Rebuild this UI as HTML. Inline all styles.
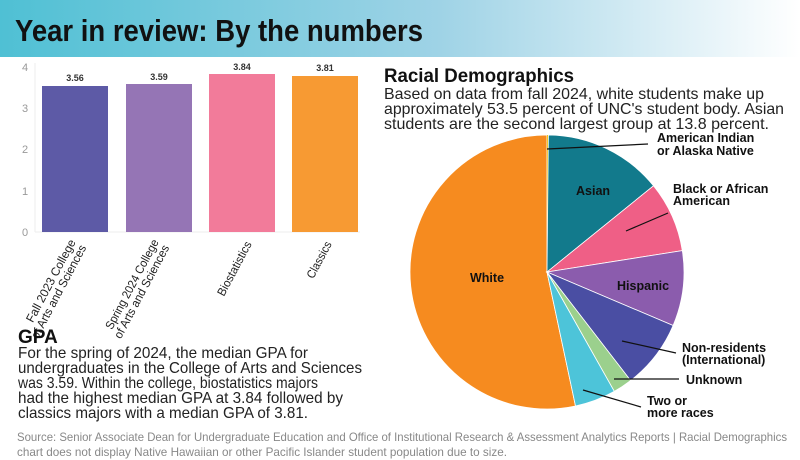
<!DOCTYPE html>
<html><head><meta charset="utf-8"><style>
html,body{margin:0;padding:0;background:#fff}
svg{display:block}
</style></head><body>
<svg width="800" height="460" viewBox="0 0 800 460" xmlns="http://www.w3.org/2000/svg" font-family="'Liberation Sans Narrow','Liberation Sans',sans-serif">
<defs><linearGradient id="hg" x1="0" x2="1" y1="0" y2="0">
<stop offset="0" stop-color="#4fc0d4"/><stop offset="0.55" stop-color="#9fd3e6"/><stop offset="1" stop-color="#ffffff"/></linearGradient></defs>
<rect x="0" y="0" width="800" height="57" fill="url(#hg)"/>
<text x="15" y="41" font-size="31" font-weight="bold" fill="#111" textLength="408" lengthAdjust="spacingAndGlyphs">Year in review: By the numbers</text>

<!-- bar chart -->
<line x1="35" y1="63" x2="35" y2="232" stroke="#eee"/>
<line x1="35" y1="232" x2="360" y2="232" stroke="#eee"/>
<g font-size="11" fill="#999" text-anchor="middle">
<text x="25" y="71">4</text><text x="25" y="112">3</text><text x="25" y="153">2</text><text x="25" y="195">1</text><text x="25" y="236">0</text>
</g>
<rect x="42" y="86" width="66" height="146" fill="#5d5aa6"/>
<rect x="126" y="84" width="66" height="148" fill="#9575b5"/>
<rect x="209" y="74" width="66" height="158" fill="#f27b9a"/>
<rect x="292" y="76" width="66" height="156" fill="#f79a33"/>
<g font-size="9" fill="#333" text-anchor="middle" font-weight="bold">
<text x="75" y="81">3.56</text><text x="159" y="80">3.59</text><text x="242" y="70">3.84</text><text x="325" y="71">3.81</text>
</g>
<g font-size="12" fill="#222" text-anchor="end">
<g transform="translate(76,242) rotate(-62)"><text x="0" y="0" textLength="92" lengthAdjust="spacingAndGlyphs">Fall 2023 College</text><text x="0" y="12" textLength="104" lengthAdjust="spacingAndGlyphs">of Arts and Sciences</text></g>
<g transform="translate(159,242) rotate(-62)"><text x="0" y="0" textLength="100" lengthAdjust="spacingAndGlyphs">Spring 2024 College</text><text x="0" y="12" textLength="104" lengthAdjust="spacingAndGlyphs">of Arts and Sciences</text></g>
<g transform="translate(252,244) rotate(-62)"><text x="0" y="0" textLength="60" lengthAdjust="spacingAndGlyphs">Biostatistics</text></g>
<g transform="translate(332,244) rotate(-62)"><text x="0" y="0" textLength="40" lengthAdjust="spacingAndGlyphs">Classics</text></g>
</g>

<!-- GPA text -->
<text x="18" y="343" font-size="19" font-weight="bold" fill="#111">GPA</text>
<g font-size="16" fill="#222">
<text x="18" y="358" textLength="290" lengthAdjust="spacingAndGlyphs">For the spring of 2024, the median GPA for</text>
<text x="18" y="373" textLength="344" lengthAdjust="spacingAndGlyphs">undergraduates in the College of Arts and Sciences</text>
<text x="18" y="388" textLength="300" lengthAdjust="spacingAndGlyphs">was 3.59. Within the college, biostatistics majors</text>
<text x="18" y="403" textLength="325" lengthAdjust="spacingAndGlyphs">had the highest median GPA at 3.84 followed by</text>
<text x="18" y="418" textLength="290" lengthAdjust="spacingAndGlyphs">classics majors with a median GPA of 3.81.</text>
</g>

<!-- Racial demographics text -->
<text x="384" y="82" font-size="19" font-weight="bold" fill="#111" textLength="190" lengthAdjust="spacingAndGlyphs">Racial Demographics</text>
<g font-size="16" fill="#222">
<text x="384" y="99" textLength="380" lengthAdjust="spacingAndGlyphs">Based on data from fall 2024, white students make up</text>
<text x="384" y="114" textLength="400" lengthAdjust="spacingAndGlyphs">approximately 53.5 percent of UNC's student body. Asian</text>
<text x="384" y="129" textLength="385" lengthAdjust="spacingAndGlyphs">students are the second largest group at 13.8 percent.</text>
</g>

<!-- pie -->
<g stroke="#fff" stroke-width="0.8">
<path d="M547,272 L575.5,406 A137,137 0 1 1 547,135 Z" fill="#f68b1f"/>
<path d="M547,272 L547,135 A137,137 0 0 1 548.4,135 Z" fill="#f5c518" stroke="none"/>
<path d="M547,272 L548.4,135 A137,137 0 0 1 653.5,185.8 Z" fill="#127a8c"/>
<path d="M547,272 L653.5,185.8 A137,137 0 0 1 682.3,250.6 Z" fill="#ef5f86"/>
<path d="M547,272 L682.3,250.6 A137,137 0 0 1 673.1,325.5 Z" fill="#8b5cad"/>
<path d="M547,272 L673.1,325.5 A137,137 0 0 1 630.6,380.5 Z" fill="#4a4ea3"/>
<path d="M547,272 L630.6,380.5 A137,137 0 0 1 614.3,391.4 Z" fill="#9bd08d"/>
<path d="M547,272 L614.3,391.4 A137,137 0 0 1 575.5,406 Z" fill="#4dc4d9"/>
</g>
<g stroke="#111" stroke-width="1.2">
<line x1="547" y1="149" x2="648" y2="144"/>
<line x1="626" y1="231" x2="668" y2="213"/>
<line x1="622" y1="341" x2="676" y2="353"/>
<line x1="614" y1="379" x2="679" y2="379"/>
<line x1="583" y1="390" x2="641" y2="407"/>
</g>
<g font-size="12.5" font-weight="bold" fill="#111">
<text x="576" y="195">Asian</text>
<text x="470" y="282">White</text>
<text x="617" y="290">Hispanic</text>
<text x="657" y="142">American Indian</text><text x="657" y="155">or Alaska Native</text>
<text x="673" y="193">Black or African</text><text x="673" y="205">American</text>
<text x="682" y="352">Non-residents</text><text x="682" y="364">(International)</text>
<text x="686" y="384">Unknown</text>
<text x="647" y="405">Two or</text><text x="647" y="417">more races</text>
</g>

<!-- source -->
<g font-size="12" fill="#888">
<text x="17" y="441" textLength="770" lengthAdjust="spacingAndGlyphs">Source: Senior Associate Dean for Undergraduate Education and Office of Institutional Research &amp; Assessment Analytics Reports | Racial Demographics</text>
<text x="17" y="456" textLength="490" lengthAdjust="spacingAndGlyphs">chart does not display Native Hawaiian or other Pacific Islander student population due to size.</text>
</g>
</svg>
</body></html>
